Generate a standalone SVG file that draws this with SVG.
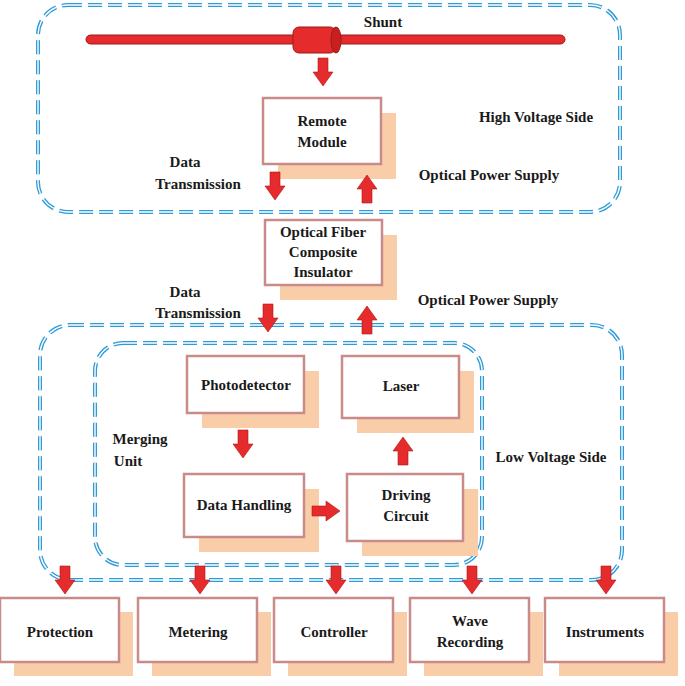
<svg xmlns="http://www.w3.org/2000/svg" width="685" height="686" viewBox="0 0 685 686">
<defs>
<style>
.zb{fill:none;stroke:#2e9ad8;stroke-width:4;stroke-dasharray:14 6}
.zw{fill:none;stroke:#fff;stroke-width:1.4;stroke-dasharray:14 6}
.box{fill:#fff;stroke:#c98a8a;stroke-width:2.5}
.sh{fill:#f8cda8}
.t{font-family:"Liberation Serif",serif;font-weight:bold;font-size:15px;fill:#1a1a1a;text-anchor:middle}
.ar{fill:#e52b2b;stroke:#b31616;stroke-width:0.6}
</style>
<path id="adn" d="M-5,0 H5 V14 H10 L0,28 L-10,14 H-5 Z"/>
</defs>
<g id="zones">
<rect class="zb" x="38" y="5" width="582" height="207" rx="30"/><rect class="zw" x="38" y="5" width="582" height="207" rx="30"/>
<rect class="zb" x="40" y="325" width="582" height="255" rx="30"/><rect class="zw" x="40" y="325" width="582" height="255" rx="30"/>
<rect class="zb" x="95" y="343" width="387" height="222" rx="28"/><rect class="zw" x="95" y="343" width="387" height="222" rx="28"/>
</g>
<g id="shunt">
<rect x="86" y="35" width="479" height="9" rx="4.5" fill="#e52b2b" stroke="#9d1a1a"/>
<rect x="293" y="27" width="43" height="26" rx="6" fill="#e52b2b" stroke="#9d1a1a"/>
<ellipse cx="336" cy="40" rx="5" ry="13" fill="#c91f1f" stroke="#9d1a1a"/>
<text class="t" x="383" y="27">Shunt</text>
</g>
<g id="remote"><rect class="sh" x="278" y="113" width="118" height="66"/><rect class="box" x="263" y="98" width="118" height="66"/><text class="t" x="322" y="126">Remote</text><text class="t" x="322" y="147">Module</text></g>
<g id="insulator"><rect class="sh" x="280" y="235" width="117" height="65"/><rect class="box" x="265" y="220" width="117" height="65"/><text class="t" x="323" y="237">Optical Fiber</text><text class="t" x="323" y="257">Composite</text><text class="t" x="323" y="277">Insulator</text></g>
<g id="photodetector"><rect class="sh" x="202" y="371" width="117" height="57"/><rect class="box" x="187" y="356" width="117" height="57"/><text class="t" x="246" y="390">Photodetector</text></g>
<g id="laser"><rect class="sh" x="357" y="371" width="117" height="62"/><rect class="box" x="342" y="356" width="117" height="62"/><text class="t" x="401" y="391">Laser</text></g>
<g id="datahandling"><rect class="sh" x="199" y="489" width="120" height="63"/><rect class="box" x="184" y="474" width="120" height="63"/><text class="t" x="244" y="510">Data Handling</text></g>
<g id="driving"><rect class="sh" x="362" y="489" width="116" height="67"/><rect class="box" x="347" y="474" width="116" height="67"/><text class="t" x="406" y="500">Driving</text><text class="t" x="406" y="521">Circuit</text></g>
<g id="protection"><rect class="sh" x="14" y="612" width="119" height="64"/><rect class="box" x="0" y="598" width="119" height="64"/><text class="t" x="60" y="637">Protection</text></g>
<g id="metering"><rect class="sh" x="152" y="612" width="119" height="64"/><rect class="box" x="138" y="598" width="119" height="64"/><text class="t" x="198" y="637">Metering</text></g>
<g id="controller"><rect class="sh" x="288" y="612" width="119" height="64"/><rect class="box" x="274" y="598" width="119" height="64"/><text class="t" x="334" y="637">Controller</text></g>
<g id="wave"><rect class="sh" x="424" y="612" width="119" height="64"/><rect class="box" x="410" y="598" width="119" height="64"/><text class="t" x="470" y="626">Wave</text><text class="t" x="470" y="647">Recording</text></g>
<g id="instruments"><rect class="sh" x="559" y="612" width="119" height="64"/><rect class="box" x="545" y="598" width="119" height="64"/><text class="t" x="605" y="637">Instruments</text></g>
<g id="labels">
<text class="t" x="185" y="167">Data</text><text class="t" x="198" y="189">Transmission</text>
<text class="t" x="489" y="180">Optical Power Supply</text>
<text class="t" x="536" y="122">High Voltage Side</text>
<text class="t" x="185" y="297">Data</text><text class="t" x="198" y="318">Transmission</text>
<text class="t" x="488" y="305">Optical Power Supply</text>
<text class="t" x="140" y="444">Merging</text><text class="t" x="128" y="466">Unit</text>
<text class="t" x="551" y="462">Low Voltage Side</text>
</g>
<g id="connectors">
<use href="#adn" class="ar" x="323" y="58"/>
<use href="#adn" class="ar" x="275" y="172"/>
<use href="#adn" class="ar" transform="translate(367,203) scale(1,-1)"/>
<use href="#adn" class="ar" x="268" y="304"/>
<use href="#adn" class="ar" transform="translate(367,334) scale(1,-1)"/>
<use href="#adn" class="ar" x="243" y="430"/>
<use href="#adn" class="ar" transform="translate(403,465) scale(1,-1)"/>
<use href="#adn" class="ar" transform="translate(312,511) rotate(-90)"/>
<use href="#adn" class="ar" x="65" y="566"/>
<use href="#adn" class="ar" x="200" y="566"/>
<use href="#adn" class="ar" x="336" y="566"/>
<use href="#adn" class="ar" x="472" y="566"/>
<use href="#adn" class="ar" x="606" y="566"/>
</g>
</svg>
